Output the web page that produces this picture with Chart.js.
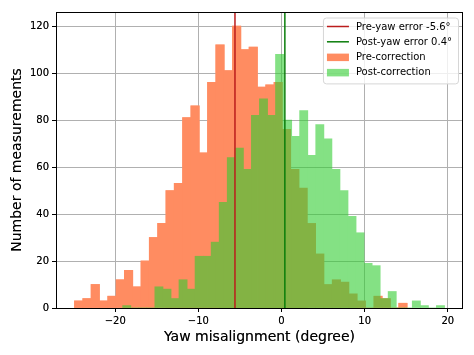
<!DOCTYPE html>
<html>
<head>
<meta charset="utf-8">
<script src="https://cdn.jsdelivr.net/npm/chart.js@4.4.0/dist/chart.umd.min.js"></script>
<style>
  html, body { margin: 0; padding: 0; background: #fff; }
  #wrap { width: 474px; height: 355px; }
</style>
</head>
<body>
<div id="wrap"><canvas id="chart" width="474" height="355"></canvas></div>
<script>
// histogram bins (degrees): 40 bins each
const preBinStart = -24.9;
const preBinWidth = 1.0;
const preCounts = [3, 4, 10, 3, 5, 12, 16, 9, 20, 30,
                   36, 50, 53, 81, 86, 66, 96, 112, 101, 120,
                   110, 111, 94, 95, 96, 76, 59, 51, 36, 23,
                   10, 12, 11, 6, 3, 0, 5, 4, 0, 2];

const postBinStart = -19.1;
const postBinWidth = 0.9675;
const postCounts = [1, 0, 0, 0, 9, 8, 4, 12, 8, 22,
                    22, 28, 45, 64, 68, 59, 82, 89, 82, 108,
                    80, 73, 84, 65, 78, 72, 59, 50, 39, 32,
                    19, 18, 4, 7, 0, 0, 3, 1, 0, 1];

const preMeanError = -5.6;
const postMeanError = 0.4;

const xRange = [-27.125, 21.825];
const yRange = [0, 126];
const xTicks = [-20, -10, 0, 10, 20];
const yTicks = [0, 20, 40, 60, 80, 100, 120];

const toBars = (start, width, counts) =>
    counts.map((c, i) => ({ x: start + width * (i + 0.5), y: c }));

const fmt = (v) => String(v).replace('-', '\u2212');
const FONT = "'DejaVu Sans', sans-serif";

// draw a dataset opaque, then mix it onto what was below with blendAlpha
// (avoids light seams between neighbouring translucent bars)
const blendPlugin = {
    id: 'blend',
    beforeDatasetDraw(chart, args) {
        const d = chart.data.datasets[args.index];
        if (!d.blendAlpha) return;
        const c = chart.canvas;
        this.snap = document.createElement('canvas');
        this.snap.width = c.width;
        this.snap.height = c.height;
        this.snap.getContext('2d').drawImage(c, 0, 0);
    },
    afterDatasetDraw(chart, args) {
        const d = chart.data.datasets[args.index];
        if (!d.blendAlpha || !this.snap) return;
        const c = chart.canvas;
        const bars = document.createElement('canvas');
        bars.width = c.width;
        bars.height = c.height;
        bars.getContext('2d').drawImage(c, 0, 0);
        const ctx = chart.ctx;
        ctx.save();
        ctx.setTransform(1, 0, 0, 1, 0, 0);
        ctx.clearRect(0, 0, c.width, c.height);
        ctx.globalAlpha = 1;
        ctx.drawImage(this.snap, 0, 0);
        ctx.globalAlpha = d.blendAlpha;
        ctx.drawImage(bars, 0, 0);
        ctx.restore();
        this.snap = null;
    }
};

// matplotlib-ish frame + legend in the upper right corner
const framePlugin = {
    id: 'frame',
    afterDatasetsDraw(chart) {
        const { ctx, chartArea: a } = chart;
        ctx.save();
        ctx.strokeStyle = '#000';
        ctx.lineWidth = 1;
        ctx.strokeRect(Math.round(a.left) + 0.5, Math.round(a.top) + 0.5,
            Math.round(a.right - a.left) - 1, Math.round(a.bottom - a.top));
        ctx.restore();
    },
    afterDraw(chart) {
        const { ctx, chartArea: a } = chart;
        const sets = chart.data.datasets;
        ctx.save();
        ctx.font = '10px ' + FONT;
        let tw = 0;
        sets.forEach(d => { tw = Math.max(tw, ctx.measureText(d.label).width); });
        const rowH = 15.3;
        const w = 33 + tw + 6;
        const h = 9 + rowH * (sets.length - 1) + 9 + 2;
        const x0 = a.right - 5 - w;
        const y0 = a.top + 5.5;
        ctx.beginPath();
        ctx.roundRect(x0 + 0.5, y0 + 0.5, w, h, 3);
        ctx.fillStyle = 'rgba(255,255,255,0.8)';
        ctx.fill();
        ctx.strokeStyle = '#d6d6d6';
        ctx.lineWidth = 1;
        ctx.stroke();
        sets.forEach((d, i) => {
            const cy = y0 + 9 + rowH * i;
            if (d.type === 'line') {
                ctx.strokeStyle = d.borderColor;
                ctx.lineWidth = 1.5;
                ctx.beginPath();
                ctx.moveTo(x0 + 4, cy);
                ctx.lineTo(x0 + 26, cy);
                ctx.stroke();
            } else {
                ctx.fillStyle = d.legendColor;
                ctx.fillRect(x0 + 4, cy - 3.5, 22, 7.5);
            }
            ctx.fillStyle = '#000';
            ctx.textBaseline = 'middle';
            ctx.textAlign = 'left';
            ctx.fillText(d.label, x0 + 33, cy + 0.5);
        });
        ctx.restore();
    }
};

const lineStyle = {
    type: 'line',
    xAxisID: 'x',
    borderWidth: 1.5,
    pointRadius: 0,
    fill: false,
    order: 0,
};

new Chart(document.getElementById('chart'), {
    type: 'bar',
    data: {
        datasets: [
            {
                ...lineStyle,
                label: 'Pre-yaw error ' + preMeanError + '°',
                data: [{ x: preMeanError, y: yRange[0] }, { x: preMeanError, y: yRange[1] }],
                borderColor: '#bb1c1c',
            },
            {
                ...lineStyle,
                label: 'Post-yaw error ' + postMeanError + '°',
                data: [{ x: postMeanError, y: yRange[0] }, { x: postMeanError, y: yRange[1] }],
                borderColor: '#0a7d0a',
            },
            {
                label: 'Pre-correction',
                data: toBars(preBinStart, preBinWidth, preCounts),
                backgroundColor: 'rgb(255,140,97)',
                legendColor: 'rgb(255,140,97)',
                xAxisID: 'x',
                order: 2,
            },
            {
                label: 'Post-correction',
                data: toBars(postBinStart, postBinWidth, postCounts),
                backgroundColor: 'rgb(50,205,50)',
                legendColor: 'rgba(50,205,50,0.6)',
                blendAlpha: 0.6,
                xAxisID: 'x2',
                order: 1,
            },
        ]
    },
    options: {
        responsive: false,
        animation: false,
        devicePixelRatio: 1,
        layout: { padding: { top: 12, right: 11, left: 0, bottom: 0 } },
        datasets: {
            bar: {
                barPercentage: 1,
                categoryPercentage: 1,
                grouped: false,
                borderWidth: 0,
                inflateAmount: 0.4,
            }
        },
        plugins: {
            legend: { display: false },
            tooltip: { enabled: false },
        },
        scales: {
            x: {
                type: 'linear',
                offset: false,
                min: xRange[0],
                max: xRange[1],
                afterBuildTicks: (axis) => { axis.ticks = xTicks.map(v => ({ value: v })); },
                afterFit: (axis) => { axis.height = 47; },
                grid: { offset: false, color: '#b0b0b0', lineWidth: 1, tickLength: 4, tickColor: '#000' },
                border: { display: false },
                ticks: {
                    color: '#000', padding: 3, maxRotation: 0,
                    font: { family: FONT, size: 10 },
                    callback: (v) => fmt(v),
                },
                title: {
                    display: true,
                    text: 'Yaw misalignment (degree)',
                    color: '#000',
                    font: { family: FONT, size: 14 },
                    padding: { top: 0, bottom: 9.5 },
                },
            },
            x2: {
                type: 'linear',
                display: false,
                offset: false,
                grid: { offset: false },
                min: xRange[0],
                max: xRange[1],
            },
            y: {
                min: yRange[0],
                max: yRange[1],
                afterBuildTicks: (axis) => { axis.ticks = yTicks.map(v => ({ value: v })); },
                afterFit: (axis) => { axis.width = 56; },
                grid: { color: '#b0b0b0', lineWidth: 1, tickLength: 4, tickColor: '#000' },
                border: { display: false },
                ticks: {
                    color: '#000', padding: 3,
                    font: { family: FONT, size: 10 },
                },
                title: {
                    display: true,
                    text: 'Number of measurements',
                    color: '#000',
                    font: { family: FONT, size: 14 },
                    padding: { top: 9, bottom: 0 },
                },
            }
        }
    },
    plugins: [blendPlugin, framePlugin]
});
</script>
</body>
</html>
